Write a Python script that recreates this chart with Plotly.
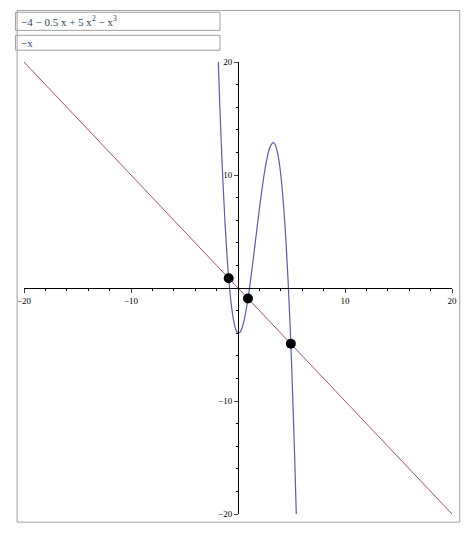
import plotly.graph_objects as go

# values
cubic_x = [-1.85, -1.8, -1.7, -1.6, -1.4, -1.2, -1.0, -0.8, -0.6, -0.4, -0.2, 0.0, 0.2, 0.5, 0.8,
           1.0, 1.2, 1.5, 2.0, 2.5, 2.8, 3.0, 3.3, 3.5, 3.8, 4.0, 4.2, 4.5, 4.8, 5.0, 5.3, 5.45]
cubic_y = [20.4, 18.9, 16.2, 13.7, 9.24, 5.53, 2.5, 0.11, -1.68, -2.94, -3.69, -4.0, -3.91, -3.13, -1.71,
           -0.5, 0.87, 3.13, 7.0, 10.38, 11.85, 12.5, 12.86, 12.63, 11.43, 10.0, 8.01, 3.88, -1.79, -6.5, -15.08, -20.1]
line_x = [-20, 20]
line_y = [20, -20]
pts_x = [-0.87, 0.93, 4.94]
pts_y = [0.87, -0.93, -4.94]

fig = go.Figure()
fig.add_trace(go.Scatter(x=line_x, y=line_y, mode='lines', line=dict(color='#a0507a', width=1)))
fig.add_trace(go.Scatter(x=cubic_x, y=cubic_y, mode='lines',
                         line=dict(color='#5c5ca6', width=1.2, shape='spline')))
fig.add_trace(go.Scatter(x=pts_x, y=pts_y, mode='markers', marker=dict(color='black', size=10)))

axis = dict(range=[-20, 20], tickvals=[-20, -10, 10, 20], ticks='outside', ticklen=4,
            showgrid=False, zeroline=False, showline=True, linecolor='black', linewidth=1,
            anchor='free', position=0.5, tickfont=dict(family='Liberation Serif', size=9, color='black'),
            minor=dict(dtick=2, ticks='outside', ticklen=2, tickcolor='black'))

# plot area 439 x 456 px
fig.update_layout(
    width=458, height=520, showlegend=False,
    plot_bgcolor='white', paper_bgcolor='white',
    margin=dict(l=9, r=10, t=54, b=10),
    xaxis=axis, yaxis=axis,
    shapes=[
        dict(type='rect', xref='paper', yref='paper', x0=-0.016, x1=1.018, y0=-0.018, y1=1.114,
             line=dict(color='#a0a0a0', width=1)),
        dict(type='rect', xref='paper', yref='paper', x0=-0.02, x1=0.458, y0=1.070, y1=1.110,
             line=dict(color='#a0a0a0', width=1)),
        dict(type='rect', xref='paper', yref='paper', x0=-0.02, x1=0.458, y0=1.026, y1=1.059,
             line=dict(color='#a0a0a0', width=1)),
    ],
    annotations=[
        dict(xref='paper', yref='paper', x=-0.012, y=1.090, xanchor='left', yanchor='middle', showarrow=False,
             text='−4 − 0.5 x + 5 x<sup>2</sup> − x<sup>3</sup>', font=dict(family='Liberation Serif', size=11)),
        dict(xref='paper', yref='paper', x=-0.012, y=1.042, xanchor='left', yanchor='middle', showarrow=False,
             text='−x', font=dict(family='Liberation Serif', size=11)),
    ],
)

fig.write_html("out.html")
